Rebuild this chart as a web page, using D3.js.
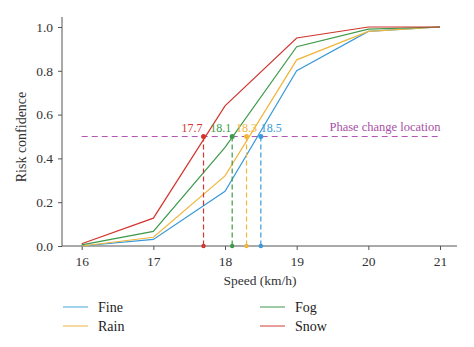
<!DOCTYPE html>
<html>
<head>
<meta charset="utf-8">
<script src="https://cdn.jsdelivr.net/npm/d3@7"></script>
<style>
  body { margin: 0; background: #fff; }
  svg text { font-family: "Liberation Serif", "DejaVu Serif", serif; }
</style>
</head>
<body>
<div id="visual"></div>
<script>
// speed values on the x axis
var speeds = [16, 17, 18, 19, 20, 21];
// risk confidence for each weather condition
var fine = [0.0, 0.03, 0.25, 0.80, 0.98, 1.0];
var rain = [0.0, 0.04, 0.32, 0.85, 0.98, 1.0];
var fog  = [0.005, 0.067, 0.45, 0.91, 0.99, 1.0];
var snow = [0.01, 0.127, 0.64, 0.95, 1.0, 1.0];
// phase change speeds where each curve crosses 0.5
var phaseNames = ["Snow", "Fog", "Rain", "Fine"];
var phaseSpeeds = [17.7, 18.1, 18.3, 18.5];
var phaseLevel = 0.5;
var yTicks = [0.0, 0.2, 0.4, 0.6, 0.8, 1.0];

var colors = {Fine: "#3a9ad9", Rain: "#f0b63c", Fog: "#3d9a4a", Snow: "#d2352e"};
var legendColors = {Fine: "#85c3e8", Rain: "#f3cd80", Fog: "#7fb889", Snow: "#de7f74"};

var series = [
  {name: "Fine", values: fine},
  {name: "Rain", values: rain},
  {name: "Fog", values: fog},
  {name: "Snow", values: snow}
];

var W = 474, H = 347;
var margin = {top: 17, left: 62};

var svg = d3.select("#visual").append("svg")
  .attr("width", W).attr("height", H);

var x = d3.scaleLinear().domain([16, 21]).range([81.7, 440]);
var y = d3.scaleLinear().domain([0, 1]).range([246, 27]);

// axes
var xAxis = svg.append("g")
  .attr("transform", "translate(0," + y(0) + ")")
  .call(d3.axisBottom(x).tickValues(speeds).tickFormat(d3.format("d")).tickSize(4).tickSizeOuter(0));
xAxis.select(".domain").attr("d", "M" + margin.left + ",0H457");

var yAxis = svg.append("g")
  .attr("transform", "translate(" + margin.left + ",0)")
  .call(d3.axisLeft(y).tickValues(yTicks).tickFormat(d3.format(".1f")).tickSize(4).tickSizeOuter(0));
yAxis.select(".domain").attr("d", "M0," + margin.top + "V" + y(0));

// drop the default sans-serif font the axis sets
xAxis.attr("font-family", null).attr("font-size", null);
yAxis.attr("font-family", null).attr("font-size", null);

svg.selectAll(".tick text")
  .style("font-family", "'Liberation Serif', serif")
  .attr("font-size", 13.5)
  .attr("fill", "#333");
svg.selectAll(".domain, .tick line").attr("stroke", "#555");
xAxis.selectAll(".tick text").attr("y", 8).attr("dy", "0.9em");
yAxis.selectAll(".tick text").attr("x", -9);

// axis titles
svg.append("text")
  .attr("x", 260).attr("y", 285)
  .attr("text-anchor", "middle")
  .attr("font-size", 13.5).attr("fill", "#333")
  .text("Speed (km/h)");

svg.append("text")
  .attr("transform", "translate(26," + 137 + ") rotate(-90)")
  .attr("text-anchor", "middle")
  .attr("font-size", 14).attr("fill", "#333")
  .text("Risk confidence");

// horizontal phase change line
svg.append("line")
  .attr("x1", x(16)).attr("x2", x(21))
  .attr("y1", y(phaseLevel)).attr("y2", y(phaseLevel))
  .attr("stroke", "#b455b4").attr("stroke-width", 1.2)
  .attr("stroke-dasharray", "6,4");

svg.append("text")
  .attr("x", 385).attr("y", y(phaseLevel) - 6)
  .attr("text-anchor", "middle")
  .attr("font-size", 12.5).attr("fill", "#a651a6")
  .text("Phase change location");

// curves
var line = d3.line()
  .x(function(d, i) { return x(speeds[i]); })
  .y(function(d) { return y(d); });

svg.selectAll(".curve")
  .data(series)
  .enter().append("path")
  .attr("class", "curve")
  .attr("fill", "none")
  .attr("stroke", function(d) { return colors[d.name]; })
  .attr("stroke-width", 1.2)
  .attr("d", function(d) { return line(d.values); });

// vertical drop lines with markers and labels
var labelAnchor = ["end", "end", "middle", "start"];
var labelDx = [-1, -1, 0, 0];
phaseSpeeds.forEach(function(s, i) {
  var c = colors[phaseNames[i]];
  svg.append("line")
    .attr("x1", x(s)).attr("x2", x(s))
    .attr("y1", y(phaseLevel)).attr("y2", y(0))
    .attr("stroke", c).attr("stroke-width", 1.2)
    .attr("stroke-dasharray", "5,3");
  svg.append("circle")
    .attr("cx", x(s)).attr("cy", y(phaseLevel)).attr("r", 2.5)
    .attr("fill", c);
  svg.append("circle")
    .attr("cx", x(s)).attr("cy", y(0)).attr("r", 2.2)
    .attr("fill", c);
  svg.append("text")
    .attr("x", x(s) + labelDx[i]).attr("y", y(phaseLevel) - 5)
    .attr("text-anchor", labelAnchor[i])
    .attr("font-size", 12).attr("fill", c)
    .text(d3.format(".1f")(s));
});

// legend
var legendPos = {
  Fine: [63, 307], Rain: [63, 326], Fog: [260, 307], Snow: [260, 326]
};
series.forEach(function(d) {
  var p = legendPos[d.name];
  svg.append("line")
    .attr("x1", p[0]).attr("x2", p[0] + 25)
    .attr("y1", p[1]).attr("y2", p[1])
    .attr("stroke", legendColors[d.name]).attr("stroke-width", 1.5);
  svg.append("text")
    .attr("x", p[0] + 35).attr("y", p[1] + 4.5)
    .attr("font-size", 14).attr("fill", "#222")
    .text(d.name);
});
</script>
</body>
</html>
